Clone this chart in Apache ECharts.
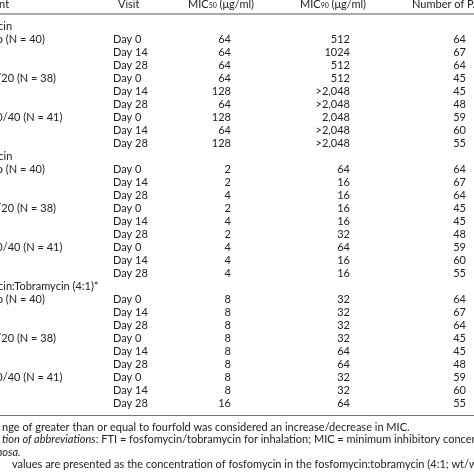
<!DOCTYPE html>
<html>
<head>
<meta charset="utf-8">
<script src="https://cdn.jsdelivr.net/npm/echarts@6/dist/echarts.min.js"></script>
<style>
  html, body { margin: 0; padding: 0; background: #fff; }
  #chart { width: 474px; height: 474px; }
</style>
</head>
<body>
<div id="chart"></div>
<script>
  var headers = ['Treatment', 'Visit', 'MIC{sub|50} (μg/ml)', 'MIC{sub|90} (μg/ml)', 'Number of PA isolates'];
  var groups = ['Fosfomycin', 'Tobramycin', 'Fosfomycin:Tobramycin (4:1)*'];
  var arms = ['Placebo (N = 40)', 'FTI 80/20 (N = 38)', 'FTI 160/40 (N = 41)'];
  var visits = ['Day 0', 'Day 14', 'Day 28'];
  var mic50 = [
    ['64', '64', '64', '64', '128', '64', '128', '64', '128'],
    ['2', '2', '4', '2', '4', '2', '4', '4', '4'],
    ['8', '8', '8', '8', '8', '8', '8', '8', '16']
  ];
  var mic90 = [
    ['512', '1024', '512', '512', '>2,048', '>2,048', '2,048', '>2,048', '>2,048'],
    ['64', '16', '16', '16', '16', '32', '64', '16', '16'],
    ['32', '32', '32', '32', '64', '64', '32', '32', '64']
  ];
  var numPA = [
    ['64', '67', '64', '45', '45', '48', '59', '60', '55'],
    ['64', '67', '64', '45', '45', '48', '59', '60', '55'],
    ['64', '67', '64', '45', '45', '48', '59', '60', '55']
  ];
  var footnotes = [
    '{n|nge of greater than or equal to fourfold was considered an increase/decrease in MIC.}',
    '{i|tion of abbreviations}{n|: FTI = fosfomycin/tobramycin for inhalation; MIC = minimum inhibitory concentration}',
    '{i|inosa.}',
    '{n|values are presented as the concentration of fosfomycin in the fosfomycin:tobramycin (4:1; wt/wt) mixture.}'
  ];

  var font = 'Lato, "Open Sans", sans-serif';
  var color = '#222';
  var rich = {
    n: { fontSize: 11, fontFamily: font, fill: color },
    i: { fontSize: 11, fontFamily: font, fontStyle: 'italic', fill: color },
    sub: { fontSize: 7, fontFamily: font, fill: color, verticalAlign: 'bottom', padding: [4, 0, 0, 0] }
  };

  function txt(x, y, s, align, extra) {
    var style = { x: x, y: y, text: s, textAlign: align || 'left', textVerticalAlign: 'middle',
      fontSize: 11, fontFamily: font, fill: color, rich: rich };
    if (extra) for (var k in extra) style[k] = extra[k];
    return { type: 'text', style: style, silent: true };
  }

  var els = [];
  var headY = 4;
  els.push(txt(-40, headY, headers[0]));
  els.push(txt(118, headY, headers[1]));
  els.push(txt(254, headY, headers[2], 'right'));
  els.push(txt(300, headY, headers[3]));
  els.push(txt(412, headY, headers[4]));
  els.push({ type: 'line', shape: { x1: 0, y1: 14, x2: 474, y2: 14 }, style: { stroke: '#555', lineWidth: 1.2 } });

  var y0 = 26, pitch = 13;
  groups.forEach(function (g, gi) {
    var base = gi * 10;
    els.push(txt(-43, y0 + base * pitch, g));
    for (var r = 0; r < 9; r++) {
      var y = y0 + (base + 1 + r) * pitch;
      if (r % 3 === 0) els.push(txt(-35, y, arms[r / 3]));
      els.push(txt(113, y, visits[r % 3]));
      els.push(txt(231, y, mic50[gi][r], 'right'));
      els.push(txt(350, y, mic90[gi][r], 'right'));
      els.push(txt(466, y, numPA[gi][r], 'right'));
    }
  });

  els.push({ type: 'line', shape: { x1: 0, y1: 415.5, x2: 474, y2: 415.5 }, style: { stroke: '#777', lineWidth: 1 } });
  footnotes.forEach(function (f, i) {
    els.push(txt(i === 3 ? 12 : (i === 2 ? -6 : 2), 427 + i * 12.5, f));
  });

  var chart = echarts.init(document.getElementById('chart'));
  chart.setOption({ backgroundColor: '#fff', animation: false, graphic: { elements: els } });
</script>
</body>
</html>
